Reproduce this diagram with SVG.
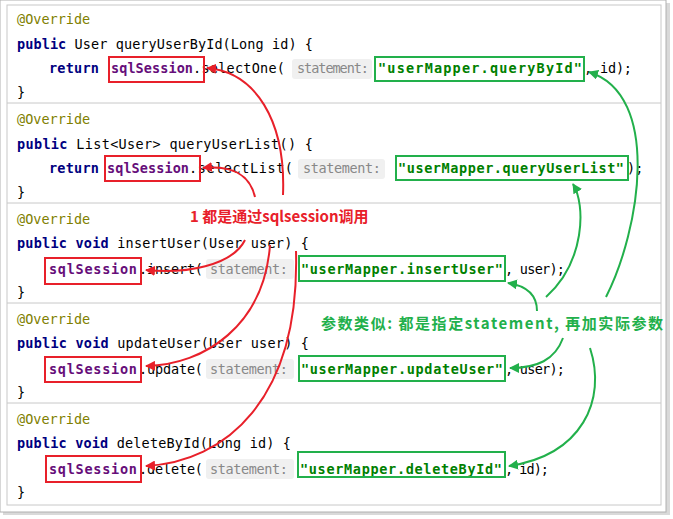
<svg xmlns="http://www.w3.org/2000/svg" width="673" height="519" viewBox="0 0 673 519">
<defs>
<marker id="ar" viewBox="0 0 10 10" refX="9" refY="5" markerWidth="5" markerHeight="5" orient="auto" markerUnits="strokeWidth"><path d="M0,0 L10,5 L0,10 z" fill="#e8202a"/></marker>
<marker id="ag" viewBox="0 0 10 10" refX="9" refY="5" markerWidth="5" markerHeight="5" orient="auto" markerUnits="strokeWidth"><path d="M0,0 L10,5 L0,10 z" fill="#22b04b"/></marker>
</defs>
<style>
.c{font-family:"DejaVu Sans Mono","Liberation Mono",monospace;font-size:13.5px;fill:#000}
.an{fill:#808000}
.kw{fill:#000080;font-weight:bold}
.fd{fill:#660e7a;font-weight:bold}
.st{fill:#008000;font-weight:bold}
.hn{fill:#888}
.hb{fill:#f0f0f0}
.sep{stroke:#c8c8c8;stroke-width:1}
.rb{fill:none;stroke:#e8202a;stroke-width:2}
.gb{fill:none;stroke:#22b04b;stroke-width:2}
.ra{fill:none;stroke:#e8202a;stroke-width:2;marker-end:url(#ar)}
.ga{fill:none;stroke:#22b04b;stroke-width:2;marker-end:url(#ag)}
.lab{font-family:"Noto Sans CJK SC","Noto Sans",sans-serif;font-weight:bold;font-size:15px}
</style>
<rect x="3" y="3" width="667" height="512" fill="#d9d9d9"/>
<rect x="0" y="0" width="666" height="512" fill="#fff" stroke="#b0b0b0"/>
<rect x="7" y="5" width="654" height="500" fill="#fff" stroke="#c8c8c8"/>
<g id="separators">
<line class="sep" x1="7" y1="103" x2="661" y2="103"/>
<line class="sep" x1="7" y1="203" x2="661" y2="203"/>
<line class="sep" x1="7" y1="303" x2="661" y2="303"/>
<line class="sep" x1="7" y1="403" x2="661" y2="403"/>
</g>
<g id="block1">
<text x="17" y="24" class="c an">@Override</text>
<text x="17" y="49" class="c" textLength="296"><tspan class="kw">public</tspan> User queryUserById(Long id) {</text>
<text x="49" y="73" class="c kw" textLength="50">return</text>
<text x="111" y="73" class="c fd" textLength="82">sqlSession</text>
<text x="193" y="73" class="c" textLength="92">.selectOne(</text>
<rect class="hb" x="292" y="59" width="80" height="20" rx="3"/>
<text x="297" y="73" class="c hn" textLength="72">statement:</text>
<text x="378" y="73" class="c st" textLength="204">"userMapper.queryById"</text>
<text x="584" y="73" class="c" textLength="48">, id);</text>
<text x="17" y="97" class="c">}</text>
<rect class="rb" x="109" y="57" width="95" height="25"/>
<rect class="gb" x="375" y="57" width="209" height="24"/>
</g>
<g id="block2">
<text x="17" y="124" class="c an">@Override</text>
<text x="17" y="149" class="c" textLength="296"><tspan class="kw">public</tspan> List&lt;User&gt; queryUserList() {</text>
<text x="49" y="173" class="c kw" textLength="50">return</text>
<text x="107" y="173" class="c fd" textLength="82">sqlSession</text>
<text x="189" y="173" class="c" textLength="104">.selectList(</text>
<rect class="hb" x="298" y="159" width="87" height="20" rx="3"/>
<text x="303" y="173" class="c hn" textLength="78">statement:</text>
<text x="398" y="173" class="c st" textLength="226">"userMapper.queryUserList"</text>
<text x="627" y="173" class="c">);</text>
<text x="17" y="197" class="c">}</text>
<rect class="rb" x="105" y="156" width="95" height="25"/>
<rect class="gb" x="396" y="156" width="232" height="24"/>
</g>
<g id="block3">
<text x="17" y="224" class="c an">@Override</text>
<text x="17" y="248" class="c" textLength="292"><tspan class="kw">public void</tspan> insertUser(User user) {</text>
<text x="49" y="274" class="c fd" textLength="88">sqlSession</text>
<text x="139" y="274" class="c" textLength="64">.insert(</text>
<rect class="hb" x="206" y="259" width="88" height="20" rx="3"/>
<text x="210" y="274" class="c hn" textLength="78">statement:</text>
<text x="301" y="274" class="c st" textLength="202">"userMapper.insertUser"</text>
<text x="505" y="274" class="c" textLength="60">, user);</text>
<text x="17" y="297" class="c">}</text>
<rect class="rb" x="45" y="258" width="96" height="26"/>
<rect class="gb" x="299" y="256" width="206" height="25"/>
</g>
<g id="block4">
<text x="17" y="324" class="c an">@Override</text>
<text x="17" y="348" class="c" textLength="292"><tspan class="kw">public void</tspan> updateUser(User user) {</text>
<text x="49" y="374" class="c fd" textLength="88">sqlSession</text>
<text x="139" y="374" class="c" textLength="64">.update(</text>
<rect class="hb" x="206" y="359" width="88" height="20" rx="3"/>
<text x="210" y="374" class="c hn" textLength="78">statement:</text>
<text x="301" y="374" class="c st" textLength="202">"userMapper.updateUser"</text>
<text x="505" y="374" class="c" textLength="60">, user);</text>
<text x="17" y="397" class="c">}</text>
<rect class="rb" x="45" y="357" width="96" height="25"/>
<rect class="gb" x="299" y="356" width="206" height="25"/>
</g>
<g id="block5">
<text x="17" y="424" class="c an">@Override</text>
<text x="17" y="448" class="c" textLength="274"><tspan class="kw">public void</tspan> deleteById(Long id) {</text>
<text x="49" y="474" class="c fd" textLength="88">sqlSession</text>
<text x="139" y="474" class="c" textLength="64">.delete(</text>
<rect class="hb" x="206" y="459" width="88" height="20" rx="3"/>
<text x="210" y="474" class="c hn" textLength="78">statement:</text>
<text x="300" y="474" class="c st" textLength="202">"userMapper.deleteById"</text>
<text x="505" y="474" class="c" textLength="44">, id);</text>
<text x="17" y="497" class="c">}</text>
<rect class="rb" x="46" y="456" width="95" height="26"/>
<rect class="gb" x="298" y="452" width="207" height="25"/>
</g>
<g id="labels">
<text x="190" y="222" class="lab" style="fill:#e8202a">1 都是通过sqlsession调用</text>
<text x="321" y="329" class="lab" style="fill:#22b04b" textLength="342">参数类似: 都是指定statement, 再加实际参数</text>
</g>
<g id="connectors">
<path class="ra" d="M283,195 C286,120 255,72 207,68"/>
<path class="ra" d="M255,197 C250,175 232,165 203,168"/>
<path class="ra" d="M245,240 C232,266 185,274 146,270"/>
<path class="ra" d="M270,245 C264,325 205,365 146,366"/>
<path class="ra" d="M296,251 C300,400 225,462 146,466"/>
<path class="ga" d="M606,297 C640,230 662,95 589,72"/>
<path class="ga" d="M546,297 C585,262 586,205 573,184"/>
<path class="ga" d="M537,311 C537,295 527,286 508,283"/>
<path class="ga" d="M563,338 C555,360 537,368 510,368"/>
<path class="ga" d="M590,348 C607,400 582,455 509,466"/>
</g>
</svg>
